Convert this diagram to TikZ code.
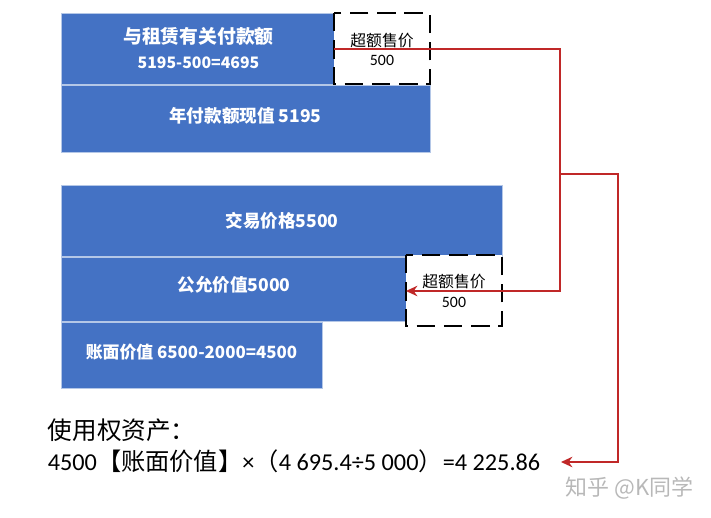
\documentclass[tikz,border=0pt]{standalone}
\usepackage{fontspec}
\usetikzlibrary{arrows.meta}
\setmainfont{Carlito}
\newfontfamily\cjk{Noto Sans CJK SC}
\definecolor{barblue}{RGB}{68,114,196}
\definecolor{linkred}{RGB}{192,40,40}
\tikzset{
	bar/.style={fill=barblue,draw=white!60!barblue,line width=0.3pt},
	barlabel/.style={text=white,font=\cjk\bfseries\fontsize{10}{13}\selectfont,align=center},
	excess/.style={draw=black,fill=white,dash pattern=on 10.5pt off 5pt,line width=1.5pt},
	exlabel/.style={font=\fontsize{9}{11}\selectfont,align=center,inner sep=0pt},
	link/.style={draw=linkred,line width=0.8pt,-{Stealth[length=6.5pt,width=6pt]}}
}
\begin{document}
\begin{tikzpicture}[line join=miter,>=stealth,x=0.02cm,y=-0.02cm]
	\useasboundingbox (0,0) rectangle (711,518);
	% upper block
	\path[bar] (61,85) rectangle (430,152);
	\node[barlabel] (annual) at (245.5,116) {年付款额现值 5195};
	\path[bar] (61,13) rectangle (334,84);
	\node[barlabel,font=\cjk\bfseries\fontsize{10.7}{13}\selectfont] (lease) at (198.5,48) {与租赁有关付款额\\[1pt]{\fontsize{9}{12}\selectfont 5195-500=4695}};
	\draw[excess] (334,13) rectangle (430,84);
	\node[exlabel] (exone) at (382,49.5) {{\cjk 超额售价}\\500};
	% lower block
	\path[bar] (61,185.5) rectangle (502,256);
	\node[barlabel] (price) at (282,221) {交易价格5500};
	\path[bar] (61,257) rectangle (406,321);
	\node[barlabel] (fair) at (234,285) {公允价值5000};
	\path[bar] (61,322) rectangle (322,388);
	\node[barlabel,font=\cjk\bfseries\fontsize{9.6}{13}\selectfont] (book) at (191.5,352) {账面价值 6500-2000=4500};
	\draw[excess] (406,255) rectangle (502,326);
	\node[exlabel] (extwo) at (454,291) {{\cjk 超额售价}\\500};
	% result text
	\node[anchor=west,inner sep=0pt,font=\cjk\fontsize{14}{15}\selectfont] (rou) at (47.5,430) {使用权资产：};
	\node[anchor=west,inner sep=0pt,font=\fontsize{13.8}{15}\selectfont] (calc) at (47.5,461.5) {4500{\cjk 【账面价值】}×{\cjk （}4 695.4÷5 000{\cjk ）}=4 225.86};
	% connectors
	\coordinate (start) at (334,49);
	\coordinate (split) at (560,174);
	\coordinate (entry) at (406,291);
	\coordinate (stop) at (561,462);
	\draw[link] (start) -- (560,49) -- (split) -- (560,291) -- (entry);
	\draw[link] (split) -- (618,174) -- (618,462) -- (stop);
	\node[text=black!28,font=\cjk\fontsize{12.5}{14}\selectfont] (mark) at (629.5,488) {知乎 @K同学};
\end{tikzpicture}
\end{document}
